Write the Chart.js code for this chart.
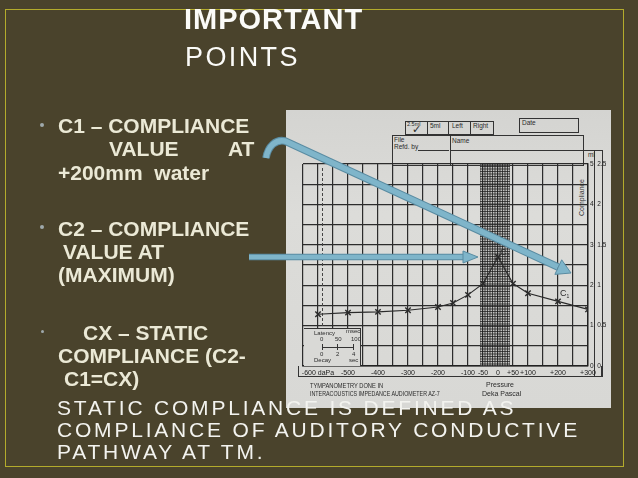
<!DOCTYPE html>
<html><head><meta charset="utf-8">
<script src="https://cdn.jsdelivr.net/npm/chart.js@4.4.0/dist/chart.umd.min.js"></script>
<style>
html,body{margin:0;padding:0;}
body{width:638px;height:478px;background:#4a432c;position:relative;overflow:hidden;font-family:"Liberation Sans",Arial,sans-serif;}
.abs{position:absolute;white-space:pre;line-height:1;}
#frame{position:absolute;left:5px;top:9px;width:619px;height:458px;border:1.5px solid #b3ab2c;box-sizing:border-box;}
.t1{font-weight:bold;font-size:29px;color:#fbfbf8;letter-spacing:1px;}
.t2{font-size:27px;color:#fbfbf8;letter-spacing:2.4px;}
.b{font-weight:bold;font-size:21px;color:#ebe9d6;}
.bot{font-size:21px;color:#f3f3ef;letter-spacing:2.8px;}
.dot{position:absolute;width:4px;height:4px;border-radius:50%;background:#9fa9ac;}
#paper{position:absolute;left:286px;top:110px;width:325px;height:298px;background:linear-gradient(180deg,#d4d4d1 0%,#dcdcd9 35%,#d8d8d5 100%);}
#chartwrap{position:absolute;left:286px;top:110px;width:325px;height:298px;}
.sm{position:absolute;font-size:6.5px;color:#2b2b2b;white-space:pre;line-height:1;}
.bx{position:absolute;border:1px solid #333;box-sizing:border-box;}
.vl{position:absolute;width:0;border-left:1px solid #333;}
.hl{position:absolute;height:0;border-top:1px solid #333;}
</style></head>
<body>
<div id="paper"></div>

<!-- form header on the sheet -->
<div class="bx" style="left:405px;top:121px;width:89px;height:14px;"></div>
<div class="vl" style="left:427px;top:121px;height:14px;"></div>
<div class="vl" style="left:448px;top:121px;height:14px;"></div>
<div class="vl" style="left:470px;top:121px;height:14px;"></div>
<div class="sm" style="left:407px;top:122px;font-size:5.5px;">2.5ml</div>
<div class="sm" style="left:412px;top:124px;font-size:11px;font-weight:bold;font-family:'DejaVu Sans';">✓</div>
<div class="sm" style="left:430px;top:123px;">5ml</div>
<div class="sm" style="left:452px;top:123px;">Left</div>
<div class="sm" style="left:473px;top:123px;">Right</div>
<div class="bx" style="left:519px;top:118px;width:60px;height:15px;"></div>
<div class="sm" style="left:522px;top:120px;">Date</div>
<div class="bx" style="left:392px;top:135px;width:192px;height:31px;"></div>
<div class="vl" style="left:450px;top:135px;height:31px;"></div>
<div class="hl" style="left:450px;top:150px;width:134px;"></div>
<div class="sm" style="left:394px;top:137px;">File</div>
<div class="sm" style="left:394px;top:144px;">Refd. by</div>
<div class="hl" style="left:418px;top:150px;width:31px;"></div>
<div class="sm" style="left:452px;top:138px;">Name</div>
<div class="vl" style="left:594px;top:150px;height:227px;"></div>
<div class="vl" style="left:602px;top:150px;height:227px;"></div>
<div class="hl" style="left:584px;top:150px;width:18px;"></div>
<div class="sm" style="left:588px;top:152px;">ml</div>
<div class="sm" style="left:561px;top:194px;transform:rotate(-90deg);transform-origin:center;width:40px;text-align:center;font-size:7px;color:#333;">Compliance</div>
<div class="bx" style="left:298px;top:366px;width:304px;height:11px;border-top:none;"></div>

<div id="chartwrap"><canvas id="c" width="325" height="298"></canvas></div>

<!-- latency / decay legend box on the sheet -->
<div style="position:absolute;left:304px;top:328px;width:56px;height:37px;background:#d9d9d6;border-top:1px solid #333;border-right:1px solid #333;"></div>
<div class="sm" style="left:314px;top:330px;font-size:6px;">Latency</div>
<div class="sm" style="left:346px;top:328px;font-size:6px;">msec</div>
<div class="sm" style="left:320px;top:336px;font-size:6px;">0</div>
<div class="sm" style="left:335px;top:336px;font-size:6px;">50</div>
<div class="sm" style="left:351px;top:336px;font-size:6px;">100</div>
<div class="hl" style="left:322px;top:347px;width:31px;"></div>
<div class="vl" style="left:322px;top:344px;height:6px;"></div>
<div class="vl" style="left:337px;top:344px;height:6px;"></div>
<div class="vl" style="left:353px;top:344px;height:6px;"></div>
<div class="sm" style="left:320px;top:351px;font-size:6px;">0</div>
<div class="sm" style="left:336px;top:351px;font-size:6px;">2</div>
<div class="sm" style="left:352px;top:351px;font-size:6px;">4</div>
<div class="sm" style="left:314px;top:357px;font-size:6px;">Decay</div>
<div class="sm" style="left:349px;top:357px;font-size:6px;">sec</div>

<!-- footer text on the sheet -->
<div class="sm" style="left:310px;top:383px;font-size:6.5px;transform:scaleX(0.88);transform-origin:left;">TYMPANOMETRY DONE IN</div>
<div class="sm" style="left:310px;top:391px;font-size:6.5px;transform:scaleX(0.82);transform-origin:left;">INTERACOUSTICS IMPEDANCE AUDIOMETER AZ-7</div>
<div class="sm" style="left:486px;top:381px;font-size:7px;">Pressure</div>
<div class="sm" style="left:482px;top:390px;font-size:7px;">Deka Pascal</div>

<div id="frame"></div>

<div class="abs t1" style="left:184px;top:5px;">IMPORTANT</div>
<div class="abs t2" style="left:185px;top:43.5px;">POINTS</div>

<div class="dot" style="left:40px;top:123px;"></div>
<div class="abs b" style="left:58px;top:115.3px;">C1 – COMPLIANCE</div>
<div class="abs b" style="left:109px;top:138.3px;">VALUE</div>
<div class="abs b" style="left:228px;top:138.3px;">AT</div>
<div class="abs b" style="left:58px;top:162.3px;">+200mm  water</div>

<div class="dot" style="left:40px;top:225px;"></div>
<div class="abs b" style="left:58px;top:218.3px;">C2 – COMPLIANCE</div>
<div class="abs b" style="left:63px;top:241.3px;">VALUE AT</div>
<div class="abs b" style="left:58px;top:264.3px;">(MAXIMUM)</div>

<div class="dot" style="left:41px;top:330px;width:3px;height:3px;"></div>
<div class="abs b" style="left:83px;top:322.3px;">CX – STATIC</div>
<div class="abs b" style="left:58px;top:345px;">COMPLIANCE (C2-</div>
<div class="abs b" style="left:64px;top:367.5px;">C1=CX)</div>

<div class="abs bot" style="left:57px;top:397.3px;">STATIC COMPLIANCE IS DEFINED AS</div>
<div class="abs bot" style="left:57px;top:419.3px;">COMPLIANCE OF AUDITORY CONDUCTIVE</div>
<div class="abs bot" style="left:57px;top:441.3px;">PATHWAY AT TM.</div>

<svg width="638" height="478" style="position:absolute;left:0;top:0;pointer-events:none;">
  <g fill="none" stroke-linecap="butt" stroke-linejoin="round">
    <path d="M266 158 C268 146 276 139 285 141 L558 267" stroke="#5a8ca2" stroke-width="7.5"/>
    <path d="M266 158 C268 146 276 139 285 141 L558 267" stroke="#7fb5ca" stroke-width="5.5"/>
    <path d="M249 257 L465 257" stroke="#5a8ca2" stroke-width="6.5"/>
    <path d="M249 257 L465 257" stroke="#7fb5ca" stroke-width="4.5"/>
  </g>
  <polygon points="571,273 561.7,259.8 554.9,274.4" fill="#7fb5ca" stroke="#5a8ca2" stroke-width="1"/>
  <polygon points="478,257 463,251 463,263" fill="#7fb5ca" stroke="#5a8ca2" stroke-width="1"/>
</svg>

<script>
// pressure (daPa) and compliance (ml)
const pressure   = [-600, -500, -400, -300, -200, -150, -100, -50, 0, 50, 100, 200, 300];
const compliance = [0.64, 0.66, 0.67, 0.69, 0.73, 0.78, 0.88, 1.02, 1.35, 1.02, 0.90, 0.80, 0.70];

const xTickValues = [-600, -500, -400, -300, -200, -100, -50, 0, 50, 100, 200, 300];
const xTickLabels = ['-600 daPa', '-500', '-400', '-300', '-200', '-100', '-50', '0', '+50', '+100', '+200', '+300'];
const yTickValues = [0, 0.5, 1, 1.5, 2, 2.5];
const yTickLabels = ['0  0', '1  0.5', '2  1', '3  1.5', '4  2', '5  2.5'];

const hatchRange = [-60, 40];     // shaded normal-pressure band
const dashedLineAt = -585;        // dashed reference line on the sheet
const c2Index = pressure.indexOf(0);
const c1Index = pressure.indexOf(200);

const ink = '#2a2a2a';

const sheetPlugin = {
  id: 'sheet',
  beforeDatasetsDraw(chart) {
    const {ctx, chartArea: a, scales: {x}} = chart;
    const x0 = x.getPixelForValue(hatchRange[0]);
    const x1 = x.getPixelForValue(hatchRange[1]);
    ctx.save();
    ctx.beginPath();
    ctx.rect(x0, a.top, x1 - x0, a.bottom - a.top);
    ctx.clip();
    ctx.fillStyle = 'rgba(150,150,148,0.35)';
    ctx.fillRect(x0, a.top, x1 - x0, a.bottom - a.top);
    ctx.strokeStyle = 'rgba(30,30,30,0.9)';
    ctx.lineWidth = 0.85;
    ctx.beginPath();
    for (let px = x0; px <= x1; px += 2.5) { ctx.moveTo(px, a.top); ctx.lineTo(px, a.bottom); }
    for (let py = a.top; py <= a.bottom; py += 2.5) { ctx.moveTo(x0, py); ctx.lineTo(x1, py); }
    ctx.stroke();
    ctx.restore();

    ctx.save();
    ctx.strokeStyle = '#444';
    ctx.lineWidth = 1;
    ctx.setLineDash([3, 2]);
    const xd = x.getPixelForValue(dashedLineAt);
    ctx.beginPath(); ctx.moveTo(xd, a.top + 4); ctx.lineTo(xd, a.bottom); ctx.stroke();
    ctx.restore();
  },
  afterDatasetsDraw(chart) {
    const {ctx} = chart;
    const pts = chart.getDatasetMeta(0).data;
    const label = (pt, sub, dx, dy) => {
      ctx.save();
      ctx.fillStyle = ink;
      ctx.font = '9px "Liberation Sans", Arial';
      ctx.textBaseline = 'alphabetic';
      ctx.fillText('C', pt.x + dx, pt.y + dy);
      ctx.font = '5px "Liberation Sans", Arial';
      ctx.fillText(sub, pt.x + dx + 6.5, pt.y + dy + 2);
      ctx.restore();
    };
    label(pts[c2Index], '2', 2, -2);
    label(pts[c1Index], '1', 2, -5);
  }
};

new Chart(document.getElementById('c'), {
  type: 'line',
  data: {
    datasets: [{
      data: pressure.map((p, i) => ({x: p, y: compliance[i]})),
      borderColor: ink,
      borderWidth: 1.1,
      tension: 0,
      fill: false,
      pointStyle: 'crossRot',
      pointRadius: 3.8,
      pointBorderWidth: 1.4,
      pointBorderColor: ink,
      pointBackgroundColor: ink
    }]
  },
  options: {
    responsive: false,
    animation: false,
    events: [],
    layout: {padding: {left: 17, top: 54, right: 5, bottom: 12}},
    plugins: {legend: {display: false}, tooltip: {enabled: false}},
    scales: {
      x: {
        type: 'linear', min: -650, max: 300,
        ticks: {
          stepSize: 50, autoSkip: false, maxRotation: 0, minRotation: 0, padding: 3,
          color: '#222', font: {size: 7, family: '"Liberation Sans", Arial'},
          callback: v => { const i = xTickValues.indexOf(v); return i >= 0 ? xTickLabels[i] : ''; }
        },
        grid: {color: '#2c2c2c', lineWidth: 1.2, drawTicks: false},
        border: {color: '#222', width: 1.4},
        afterFit: s => { s.height = 30; }
      },
      y: {
        position: 'right', min: 0, max: 2.5,
        ticks: {
          stepSize: 0.25, autoSkip: false, padding: 2,
          color: '#222', font: {size: 6.5, family: '"Liberation Sans", Arial'},
          callback: v => { const i = yTickValues.findIndex(t => Math.abs(t - v) < 1e-9); return i >= 0 ? yTickLabels[i] : ''; }
        },
        grid: {color: '#2c2c2c', lineWidth: 1.2, drawTicks: false},
        border: {color: '#222', width: 1.4},
        afterFit: s => { s.width = 18; }
      }
    }
  },
  plugins: [sheetPlugin]
});
</script>
</body></html>
